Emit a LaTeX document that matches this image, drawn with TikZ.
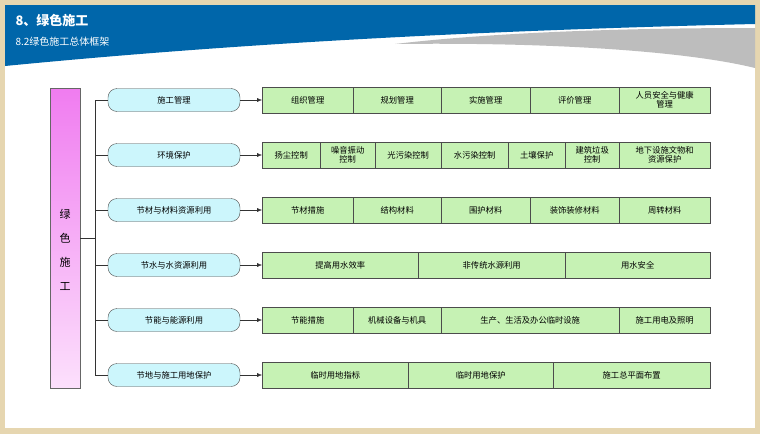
\documentclass[tikz,border=0pt]{standalone}
\usepackage{fontspec}
\setmainfont{Noto Sans CJK SC}
\usetikzlibrary{positioning,arrows.meta}
\definecolor{frame}{HTML}{E6D6B0}
\definecolor{band}{HTML}{0066AA}
\definecolor{swoosh}{HTML}{BDBDBD}
\definecolor{cyanbox}{HTML}{CCF6FC}
\definecolor{greenbox}{HTML}{C6F2B4}
\definecolor{pinktop}{HTML}{F07CF0}
\definecolor{pinkbot}{HTML}{FCE0FC}
\begin{document}
\begin{tikzpicture}[x=1pt,y=-1pt,font=\fontsize{8.3}{9}\selectfont]
	\tikzset{topic/.style = {draw=black!70,fill=cyanbox,rounded corners=9pt,minimum width=132pt,minimum height=23pt,inner sep=1pt}}
	\tikzset{cell/.style = {draw=black!70,fill=greenbox,minimum height=26pt,inner sep=1pt,align=center,anchor=west}}
	\tikzset{link/.style = {-{Latex[length=5pt,width=4pt]},black!80}}
	\tikzset{trunk/.style = {black!80,line width=0.7pt}}

	% background and header
	\fill[frame] (0,0) rectangle (760,434);
	\fill[white] (5,5) rectangle (755,428);
	\fill[band] (5,5) -- (755,5) -- (755,24) .. controls (500,30) and (250,42) .. (5,66) -- cycle;
	\fill[swoosh] (755,28) .. controls (600,28) and (480,34) .. (395,44) .. controls (560,42) and (690,52) .. (755,68) -- cycle;
	\node[white,anchor=west,font=\fontsize{13}{13}\bfseries\selectfont] (title) at (12,20) {8、绿色施工};
	\node[white,anchor=west,font=\fontsize{10}{10}\selectfont] (subtitle) at (12,42) {8.2绿色施工总体框架};

	% root box
	\shade[top color=pinktop,bottom color=pinkbot,draw=black!60] (50,88) rectangle (80,388);
	\node (root) at (65,250) {\fontsize{11}{20}\selectfont\begin{tabular}{c}绿\\[4pt]色\\[4pt]施\\[4pt]工\end{tabular}};
	\coordinate (rootout) at (80,238);
	\coordinate (tr) at (95,238);
	\draw[trunk] (rootout) -- (tr);
	\draw[trunk] (95,100) -- (95,375);

	% second level
	\foreach \i/\y/\t in {1/100/施工管理,2/155/环境保护,3/210/节材与材料资源利用,4/265/节水与水资源利用,5/320/节能与能源利用,6/375/节地与施工用地保护}{
		\node[topic] (t\i) at (174,\y) {\t};
		\coordinate (b\i) at (95,\y);
		\draw[trunk] (b\i) -- (t\i.west);
	}

	% third level
	\foreach \i/\y/\list in {
		1/100/{262/91/组织管理,353/88/规划管理,441/89/实施管理,530/89/评价管理,619/91/人员安全与健康\\管理},
		2/155/{262/58/扬尘控制,320/55/噪音振动\\控制,375/66/光污染控制,441/67/水污染控制,508/57/土壤保护,565/54/建筑垃圾\\控制,619/91/地下设施文物和\\资源保护},
		3/210/{262/91/节材措施,353/88/结构材料,441/89/围护材料,530/89/装饰装修材料,619/91/周转材料},
		4/265/{262/156/提高用水效率,418/147/非传统水源利用,565/145/用水安全},
		5/320/{262/91/节能措施,353/88/机械设备与机具,441/178/生产、生活及办公临时设施,619/91/施工用电及照明},
		6/375/{262/146/临时用地指标,408/145/临时用地保护,553/157/施工总平面布置}}{
		\foreach \x/\w/\t [count=\j] in \list{
			\node[cell,minimum width=\w pt] (c\i-\j) at (\x,\y) {\t};
		}
		\draw[link] (t\i.east) -- (c\i-1.west);
	}
\end{tikzpicture}
\end{document}
